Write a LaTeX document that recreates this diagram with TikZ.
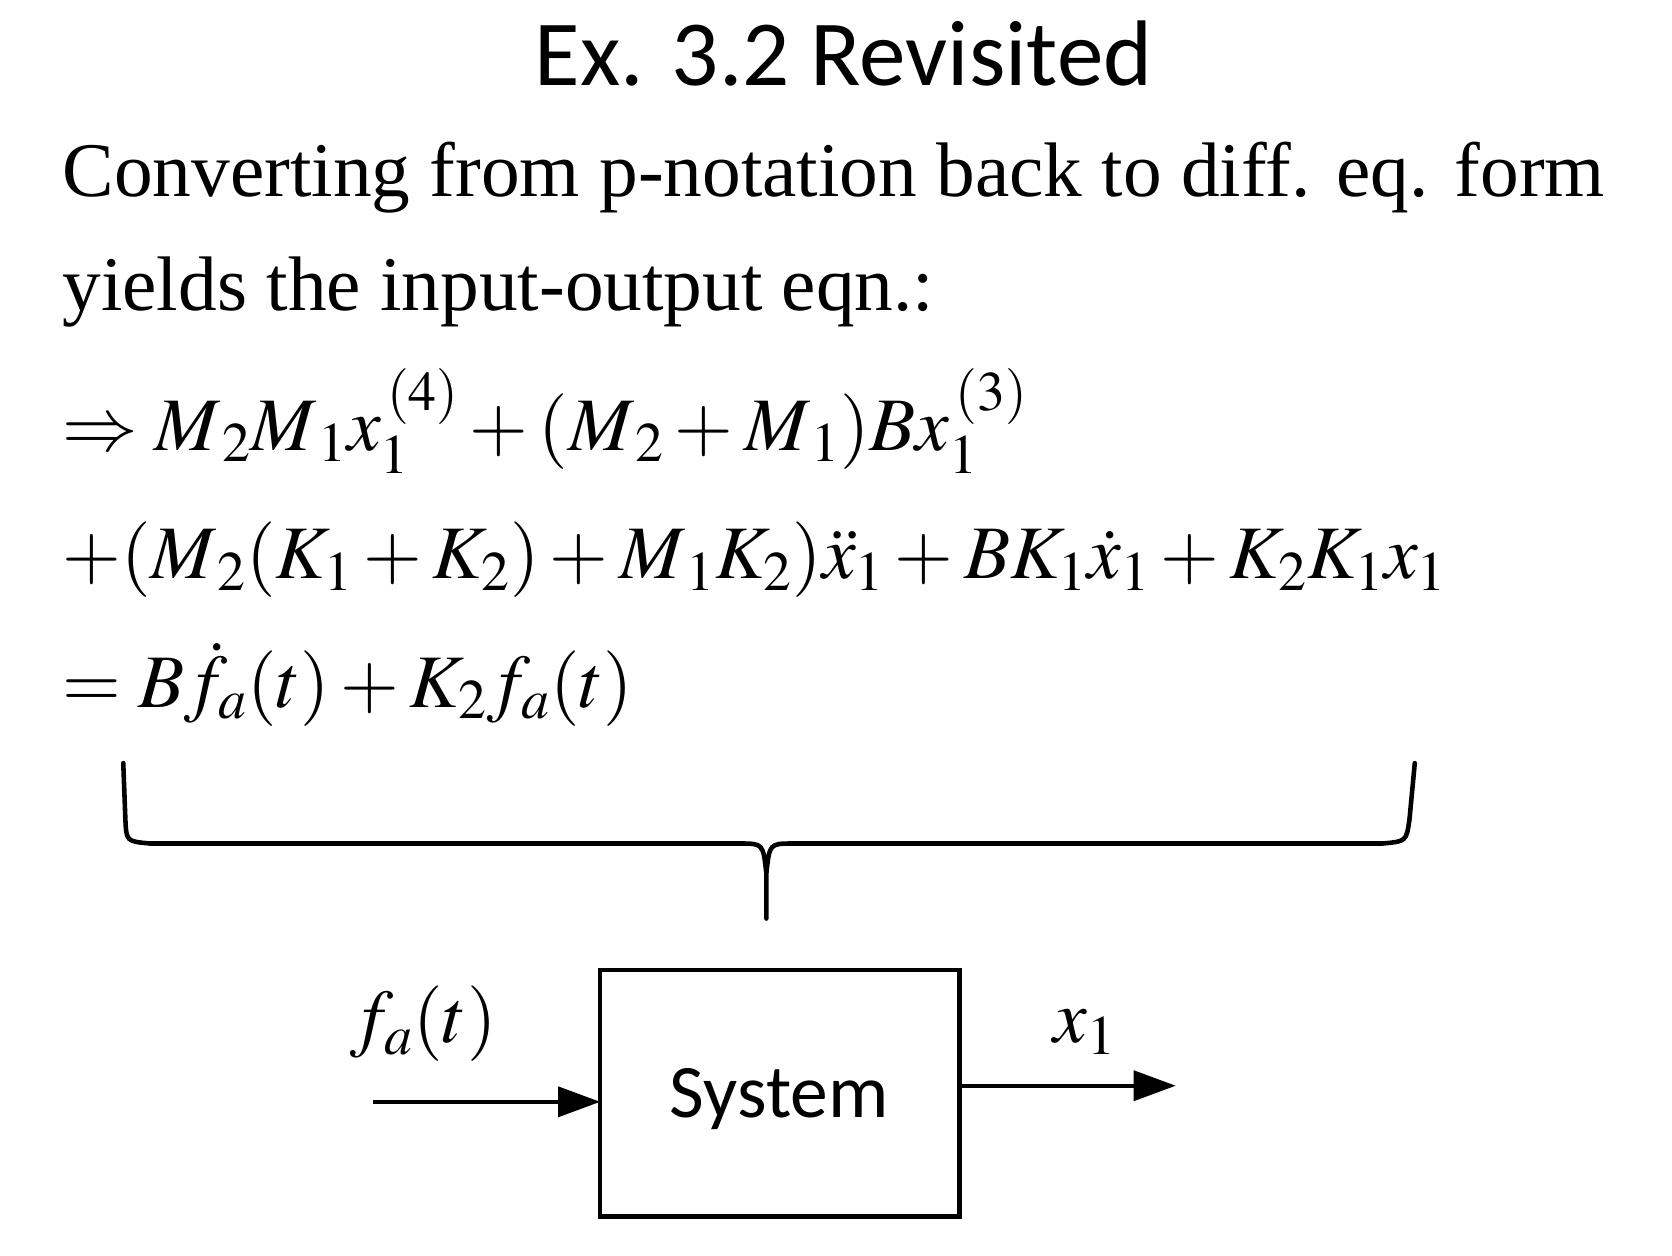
\documentclass[tikz,border=0pt]{standalone}
\usepackage{mathptmx}
\usepackage{fontspec}
\setmainfont{Liberation Serif}
\newfontfamily\calib{Carlito}
\usetikzlibrary{arrows.meta}
\begin{document}
\begin{tikzpicture}[x=0.02144cm,y=-0.02144cm,
  body/.style={anchor=base west,inner sep=0,font=\fontsize{44}{52}\selectfont},
  eq/.style={anchor=base west,inner sep=0,font=\fontsize{43}{52}\selectfont},
  arr/.style={line width=2.4pt,-{Triangle[length=24pt,width=17pt]}}]
\useasboundingbox (0,0) rectangle (1560,1171);
\node[anchor=base,inner sep=0,font=\calib\fontsize{53}{60}\selectfont] (title) at (787,80) {Ex. 3.2 Revisited};
\node[body] (l1) at (58,183) {Converting from p-notation back to diff. eq. form};
\node[body] (l2) at (58,290) {yields the input-output eqn.:};
\node[eq] (e1) at (58,420) {$\Rightarrow M_{\,2}M_{\,1}x_1^{\,(4)}+(M_{\,2}+M_{\,1})Bx_1^{\,(3)}$};
\node[eq] (e2) at (58,540) {$+(M_{\,2}(K_1+K_2)+M_{\,1}K_2)\ddot{x}_1+BK_1\dot{x}_1+K_2K_1x_1$};
\node[eq] (e3) at (58,660) {$=B\dot{f}_a(t)+K_2f_a(t)$};
\draw[line width=2.6pt,line cap=round,line join=round] (115,712) -- (117,765) .. controls (118,785) .. (140,787) -- (690,787) .. controls (712,787) .. (715,815) -- (715,857)
  (715,815) .. controls (718,787) .. (740,787) -- (1290,787) .. controls (1312,785) .. (1315,765) -- (1320,712);
\draw[line width=2.6pt] (560,905) rectangle (895,1135);
\node[inner sep=0,font=\calib\fontsize{43}{50}\selectfont] (st) at (727,1025) {System};
\coordinate (in) at (348,1028); \coordinate (inE) at (560,1028);
\coordinate (outS) at (895,1013); \coordinate (out) at (1097,1013);
\draw[arr] (in) -- (inE);
\draw[arr] (outS) -- (out);
\node[eq,anchor=base] (fa) at (395,973) {$f_a(t)$};
\node[eq,anchor=base] (x1) at (1012,973) {$x_1$};
\end{tikzpicture}
\end{document}
